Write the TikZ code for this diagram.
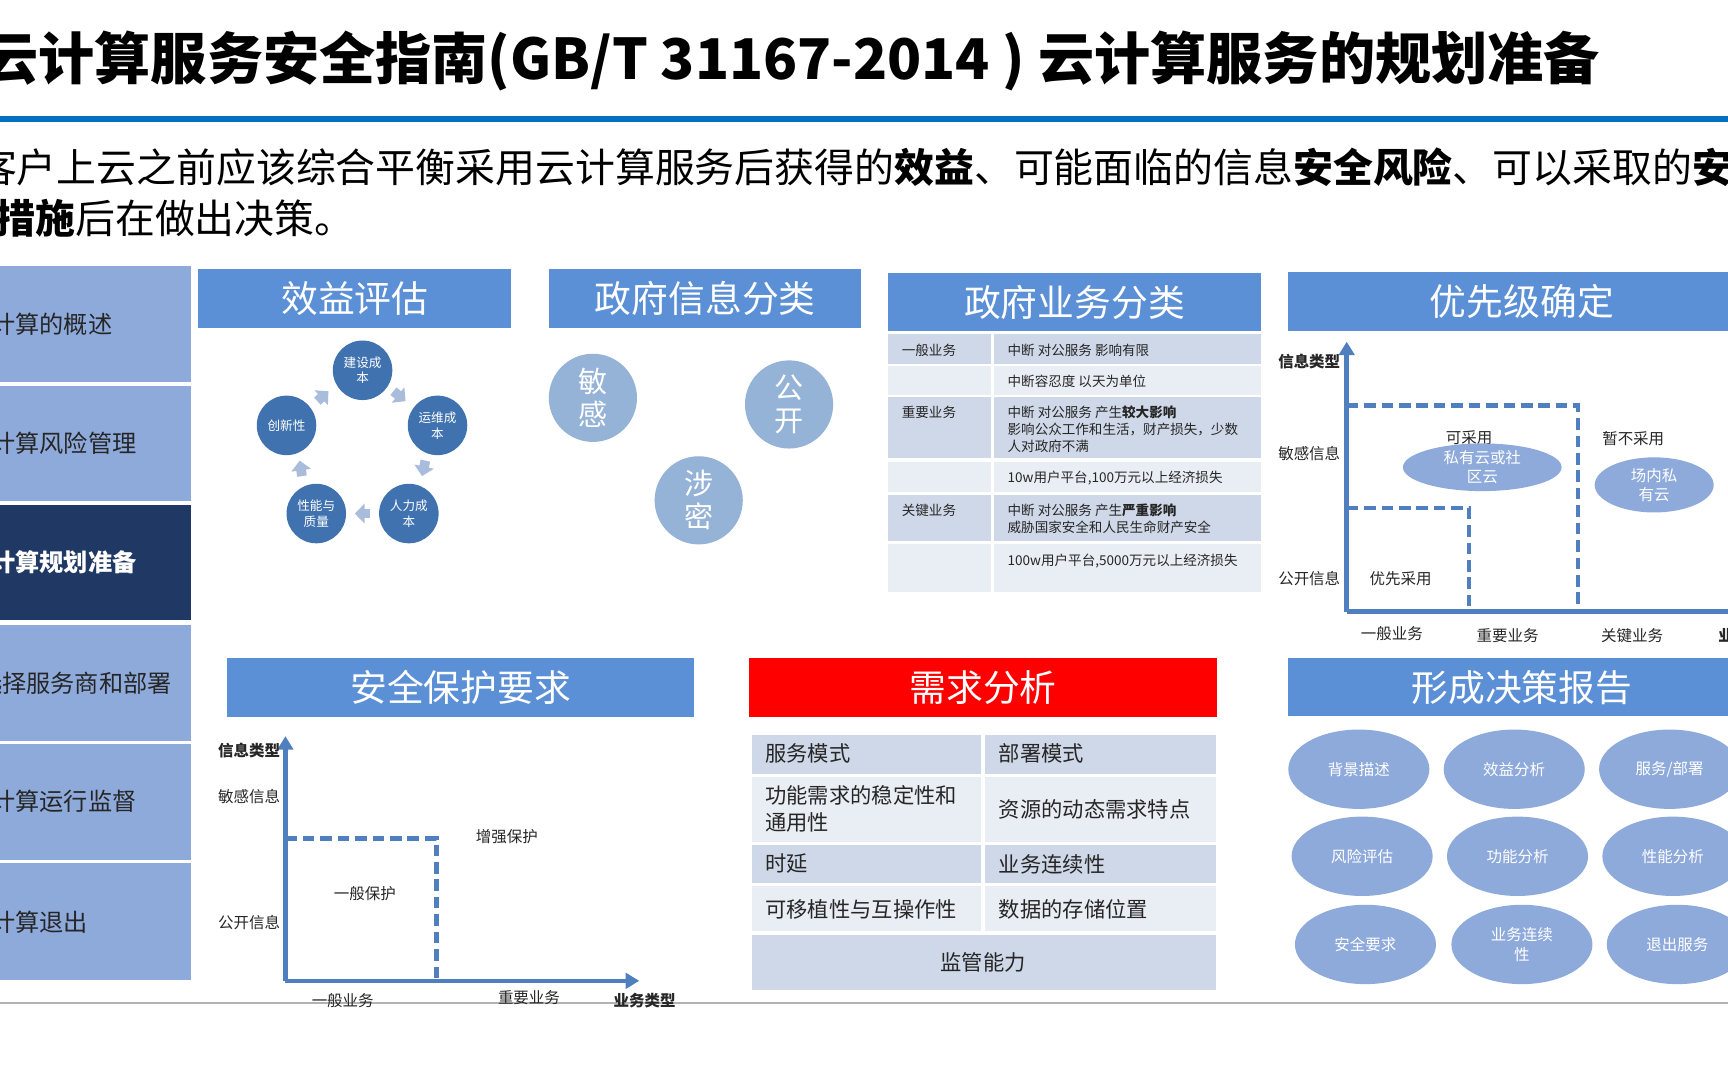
\documentclass[tikz,border=0pt]{standalone}
\usepackage{fontspec}
\setmainfont{Noto Sans CJK SC}
\usetikzlibrary{shapes.geometric,arrows.meta}
\newcommand{\fsz}[1]{\fontsize{#1}{\fpeval{#1*1.25}}\selectfont}
\definecolor{hdr}{HTML}{5B8FD6}
\definecolor{side}{HTML}{8EAADB}
\definecolor{sidedark}{HTML}{1F3864}
\definecolor{cdark}{HTML}{3F72AF}
\definecolor{clight}{HTML}{95B3D7}
\definecolor{rowd}{HTML}{CFD8E8}
\definecolor{rowl}{HTML}{E9EDF4}
\definecolor{axisc}{HTML}{4F7FBF}
\definecolor{arrc}{HTML}{A9BCDB}
\definecolor{txt}{HTML}{262626}
\tikzset{
 x=0.02cm,y=-0.02cm,
 hdrbox/.style={fill=hdr,text=white,font=\fsz{19}},
 sidetxt/.style={anchor=west,text=txt,font=\fsz{12.5}},
 bcirc/.style={circle,fill=cdark,text=white,minimum size=54*0.02cm,inner sep=0pt,align=center,font=\fsz{6.5}},
 lcirc/.style={circle,fill=clight,text=white,minimum size=80*0.02cm,inner sep=0pt,align=center,font=\fontsize{15}{17}\selectfont},
 cyc/.style={arrc,line width=5pt,-{Triangle[length=5pt,width=10pt]}},
 tt/.style={anchor=north west,text=txt,font=\fsz{7},align=left,inner sep=0pt},
 axis/.style={axisc,line width=2.3pt},
 dsh/.style={axisc,line width=2.3pt,dash pattern=on 6pt off 3pt},
 lbl/.style={text=txt,font=\fsz{8}},
 lblb/.style={text=txt,font=\fsz{8}\bfseries},
 qt/.style={anchor=west,text=txt,font=\fsz{11},align=left,inner sep=0pt},
 rell/.style={ellipse,fill=side,text=white,minimum width=128*0.02cm,minimum height=72*0.02cm,inner sep=0pt,align=center,font=\fsz{8}},
}
\begin{document}
\begin{tikzpicture}
\useasboundingbox[fill=white] (0,0) rectangle (1568,980);
% title
\node[anchor=east,inner sep=0pt,font=\fsz{29}\bfseries,text=black] (title) at (1452,55) {云计算服务安全指南(GB/T 31167-2014 ) 云计算服务的规划准备};
\fill[color={rgb,255:red,0;green,112;blue,192}] (0,105) rectangle (1568,111);
\node[anchor=east,inner sep=0pt,font=\fsz{20.6},text=black] (sub1) at (1572,152) {客户上云之前应该综合平衡采用云计算服务后获得的\textbf{效益}、可能面临的信息\textbf{安全风险}、可以采取的\textbf{安}};
\node[anchor=east,inner sep=0pt,font=\fsz{20.6},text=black] (sub2) at (322,198) {\textbf{全措施}后在做出决策。};
% sidebar
\fill[side] (0,241) rectangle (173,347);
\fill[side] (0,350) rectangle (173,455);
\fill[sidedark] (0,458) rectangle (173,563);
\fill[side] (0,567) rectangle (173,672);
\fill[side] (0,675) rectangle (173,780);
\fill[side] (0,783) rectangle (173,889);
\node[sidetxt] (s1) at (-36,294) {云计算的概述};
\node[sidetxt] (s2) at (-36,402) {云计算风险管理};
\node[sidetxt,text=white,font=\fsz{12.5}\bfseries] (s3) at (-36,510) {云计算规划准备};
\node[sidetxt] (s4) at (-26,620) {选择服务商和部署};
\node[sidetxt] (s5) at (-36,727) {云计算运行监督};
\node[sidetxt] (s6) at (-36,837) {云计算退出};
% headers
\node[hdrbox,minimum width=284*0.02cm,minimum height=54*0.02cm] (h1) at (322,271) {效益评估};
\node[hdrbox,minimum width=283*0.02cm,minimum height=54*0.02cm] (h2) at (640,271) {政府信息分类};
\node[hdrbox,minimum width=338*0.02cm,minimum height=53*0.02cm] (h3) at (975,274) {政府业务分类};
\fill[hdr] (1169,247) rectangle (1568,300);
\node[text=white,font=\fsz{19}] (h4) at (1381,274) {优先级确定};
\node[hdrbox,minimum width=424*0.02cm,minimum height=53*0.02cm] (h5) at (418,624) {安全保护要求};
\node[hdrbox,fill=red,minimum width=424*0.02cm,minimum height=53*0.02cm] (h6) at (892,624) {需求分析};
\fill[hdr] (1169,597) rectangle (1568,650);
\node[text=white,font=\fsz{19}] (h7) at (1381,624) {形成决策报告};
% cycle
\node[bcirc] (c1) at (329,336) {建设成\\本};
\node[bcirc] (c2) at (397,386) {运维成\\本};
\node[bcirc] (c3) at (371,466) {人力成\\本};
\node[bcirc] (c4) at (287,466) {性能与\\质量};
\node[bcirc] (c5) at (260,386) {创新性};
\draw[cyc] (288,364) -- (298,355);
\draw[cyc] (357,355) -- (368,364);
\draw[cyc] (386,418) -- (383,432);
\draw[cyc] (336,466) -- (322,466);
\draw[cyc] (274,432) -- (272,418);
% info class
\node[lcirc] (g1) at (538,361) {敏\\感};
\node[lcirc] (g2) at (716,367) {公\\开};
\node[lcirc] (g3) at (634,454) {涉\\密};
% business table
\foreach \ya/\yb/\c in {303/330/rowd,332/358/rowl,360/416/rowd,419/446/rowl,449/491/rowd,494/537/rowl}{
 \fill[\c] (806,\ya) rectangle (899,\yb);
 \fill[\c] (902,\ya) rectangle (1144,\yb);
}
\node[tt] (t1a) at (818,312) {一般业务};
\node[tt] (t1b) at (914,312) {中断 对公服务 影响有限};
\node[tt] (t2b) at (914,340) {中断容忍度 以天为单位};
\node[tt] (t3a) at (818,368) {重要业务};
\node[tt] (t3b) at (914,368) {中断 对公服务 产生\textbf{较大影响}\\影响公众工作和生活，财产损失，少数\\人对政府不满};
\node[tt] (t4b) at (914,427) {10w用户平台,100万元以上经济损失};
\node[tt] (t5a) at (818,457) {关键业务};
\node[tt] (t5b) at (914,457) {中断 对公服务 产生\textbf{严重影响}\\威胁国家安全和人民生命财产安全};
\node[tt] (t6b) at (914,502) {100w用户平台,5000万元以上经济损失};
% priority chart
\coordinate (po) at (1222,555);
\coordinate (py) at (1222,310);
\coordinate (px) at (1575,555);
\draw[axis,-{Triangle[length=7pt,width=8pt]}] (po) -- (py);
\draw[axis] (po) -- (px);
\coordinate (pd1) at (1222,368); \coordinate (pd2) at (1432,368); \coordinate (pd3) at (1432,555);
\coordinate (pe1) at (1222,461); \coordinate (pe2) at (1333,461); \coordinate (pe3) at (1333,555);
\draw[dsh] (pd1) -- (pd2) -- (pd3);
\draw[dsh] (pe1) -- (pe2) -- (pe3);
\node[lblb] (pl1) at (1188,328) {信息类型};
\node[lbl] (pl2) at (1188,412) {敏感信息};
\node[lbl] (pl3) at (1188,525) {公开信息};
\node[lbl] (pa1) at (1333,397) {可采用};
\node[ellipse,fill=side,text=white,minimum width=144*0.02cm,minimum height=38*0.02cm,inner sep=0pt,align=center,font=\fsz{8}] (pe) at (1345,424) {私有云或社\\区云};
\node[lbl] (pa2) at (1482,398) {暂不采用};
\node[ellipse,fill=side,text=white,minimum width=108*0.02cm,minimum height=50*0.02cm,inner sep=0pt,align=center,font=\fsz{8}] (pf) at (1501,440) {场内私\\有云};
\node[lbl] (pa3) at (1271,525) {优先采用};
\node[lbl] (px1) at (1263,575) {一般业务};
\node[lbl] (px2) at (1368,577) {重要业务};
\node[lbl] (px3) at (1481,577) {关键业务};
\node[lblb,anchor=west] (px4) at (1553,577) {业务类型};
% safety chart
\coordinate (so) at (259,890);
\coordinate (sy) at (259,668);
\coordinate (sx) at (580,890);
\draw[axis,-{Triangle[length=7pt,width=8pt]}] (so) -- (sy);
\draw[axis,-{Triangle[length=7pt,width=8pt]}] (so) -- (sx);
\coordinate (sd1) at (259,761); \coordinate (sd2) at (396,761); \coordinate (sd3) at (396,890);
\draw[dsh] (sd1) -- (sd2) -- (sd3);
\node[lblb] (sl1) at (226,681) {信息类型};
\node[lbl] (sl2) at (226,723) {敏感信息};
\node[lbl] (sl3) at (226,837) {公开信息};
\node[lbl] (sa1) at (460,759) {增强保护};
\node[lbl] (sa2) at (331,811) {一般保护};
\draw[color=black!30,line width=1.2pt] (0,910) -- (1568,910);
\node[lbl] (sx1) at (311,908) {一般业务};
\node[lbl] (sx2) at (480,905) {重要业务};
\node[lblb] (sx3) at (585,908) {业务类型};
% demand table
\foreach \ya/\yb/\c in {667/702/rowd,705/764/rowl,767/801/rowd,804/845/rowl}{
 \fill[\c] (682,\ya) rectangle (890,\yb);
 \fill[\c] (894,\ya) rectangle (1103,\yb);
}
\fill[rowd] (682,848) rectangle (1103,898);
\node[qt] (q1a) at (694,684) {服务模式};
\node[qt] (q1b) at (906,684) {部署模式};
\node[qt] (q2a) at (694,734) {功能需求的稳定性和\\通用性};
\node[qt] (q2b) at (906,734) {资源的动态需求特点};
\node[qt] (q3a) at (694,784) {时延};
\node[qt] (q3b) at (906,784) {业务连续性};
\node[qt] (q4a) at (694,825) {可移植性与互操作性};
\node[qt] (q4b) at (906,825) {数据的存储位置};
\node[qt,anchor=center] (q5) at (892,873) {监管能力};
% report ellipses
\node[rell] (r1) at (1233,698) {背景描述};
\node[rell] (r2) at (1374,698) {效益分析};
\node[rell] (r3) at (1515,698) {服务/部署};
\node[rell] (r4) at (1236,777) {风险评估};
\node[rell] (r5) at (1377,777) {功能分析};
\node[rell] (r6) at (1518,777) {性能分析};
\node[rell] (r7) at (1239,857) {安全要求};
\node[rell] (r8) at (1381,857) {业务连续\\性};
\node[rell] (r9) at (1522,857) {退出服务};
\end{tikzpicture}
\end{document}
